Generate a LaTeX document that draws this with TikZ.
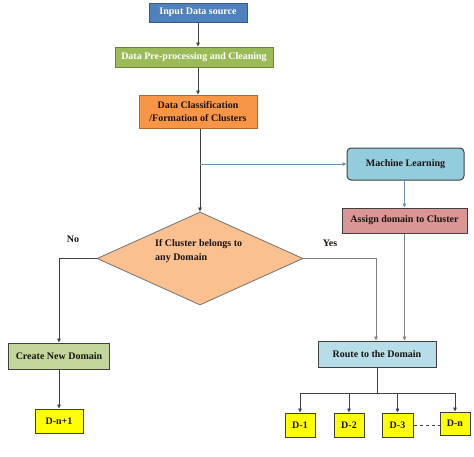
\documentclass[tikz,border=0pt]{standalone}
\usepackage{fontspec}
\setmainfont{Liberation Serif}
\usetikzlibrary{arrows.meta,shapes.geometric}
\definecolor{cin}{HTML}{4F81BD}
\definecolor{cpre}{HTML}{9BBB59}
\definecolor{ccls}{HTML}{F79646}
\definecolor{cml}{HTML}{93CDDD}
\definecolor{cas}{HTML}{D99694}
\definecolor{cdia}{HTML}{FAC08F}
\definecolor{ccr}{HTML}{C3D69B}
\definecolor{crt}{HTML}{B7DEE8}
\definecolor{cyel}{HTML}{FFFF00}
\definecolor{cline}{HTML}{404040}
\definecolor{cblue}{HTML}{6A93BE}
\definecolor{ctxt}{HTML}{1A1410}
\tikzset{
  box/.style={draw=#1, line width=1pt, inner sep=0pt, align=center, text=ctxt,
     font=\fontsize{10}{13}\selectfont\bfseries},
  box/.default=cline,
  arr/.style={draw=cline, line width=0.7pt, -{Triangle[length=4pt,width=3.5pt]}},
  ln/.style={draw=cline, line width=0.7pt},
  lbl/.style={font=\fontsize{10}{12}\selectfont\bfseries, text=ctxt, inner sep=0pt}
}
\begin{document}
\begin{tikzpicture}[x=1pt,y=-1pt]
\useasboundingbox (0,0) rectangle (474,456);
% nodes
\node[box=cin!70!black, fill=cin, text=white, minimum width=98pt, minimum height=19pt] (in) at (198,12.5) {Input Data source};
\node[box=cpre!70!black, fill=cpre, text=white, minimum width=158pt, minimum height=20pt] (pre) at (194,57) {Data Pre-processing and Cleaning};
\node[box=ccls!70!black, fill=ccls, minimum width=118pt, minimum height=33pt] (cls) at (198,111.5) {Data Classification\\/Formation of Clusters};
\node[box=cline, fill=cml, rounded corners=4pt, minimum width=117pt, minimum height=32pt] (ml) at (405.5,164) {Machine Learning};
\node[box=cline, fill=cas, minimum width=125pt, minimum height=25pt] (as) at (404.5,220.5) {Assign domain to Cluster};
\node[diamond, draw=gray!90!black, line width=0.8pt, fill=cdia, minimum width=206pt, minimum height=93pt, inner sep=0pt] (dec) at (200,258.5) {};
\node[lbl, align=left, anchor=west] (dect) at (155,251) {If Cluster belongs to\\[2pt]any Domain};
\node[box=cline, fill=ccr, minimum width=101pt, minimum height=26pt] (cr) at (59,356) {Create New Domain};
\node[box=cline, fill=cyel, minimum width=48pt, minimum height=24pt] (dn1) at (59,421) {D-n+1};
\node[box=cline, fill=crt, minimum width=118pt, minimum height=26pt] (rt) at (377,354) {Route to the Domain};
\node[box=cline, fill=cyel, minimum width=30pt, minimum height=24pt] (d1) at (300,425) {D-1};
\node[box=cline, fill=cyel, minimum width=30pt, minimum height=24pt] (d2) at (349,425) {D-2};
\node[box=cline, fill=cyel, minimum width=31pt, minimum height=24pt] (d3) at (397.5,425) {D-3};
\node[box=cline, fill=cyel, minimum width=30pt, minimum height=23pt] (dn) at (455,423.5) {D-n};
\node[lbl] (no) at (73,239) {No};
\node[lbl] (yes) at (330,243) {Yes};
% connectors
\coordinate (br) at (200,164);
\coordinate (bus) at (377,393);
\draw[arr] (in.south) -- (in.south |- pre.north);
\draw[arr] (pre.south -| in.south) -- (in.south |- cls.north);
\draw[arr] (dec.north |- cls.south) -- (dec.north);
\draw[arr, draw=cblue] (br) -- (ml.west |- br);
\draw[arr, draw=cblue] (ml.south -| as.north) -- (as.north);
\draw[arr] (dec.west) -| (cr.north);
\draw[arr] (cr.south) -- (dn1.north);
\draw[arr, draw=gray] (dec.east) -| ([xshift=-1pt]rt.north);
\draw[arr, draw=gray] (as.south) -- (as.south |- rt.north);
\draw[ln] (rt.south) -- (bus);
\draw[ln] (bus -| d1.north) -- (bus -| dn.north);
\draw[arr] (bus -| d1.north) -- (d1.north);
\draw[arr] (bus -| d2.north) -- (d2.north);
\draw[arr] (bus -| d3.north) -- (d3.north);
\draw[arr] (bus -| dn.north) -- (dn.north);
\draw[draw=cline, line width=0.7pt, dashed] (d3.east) -- (d3.east -| dn.west);
\end{tikzpicture}
\end{document}
